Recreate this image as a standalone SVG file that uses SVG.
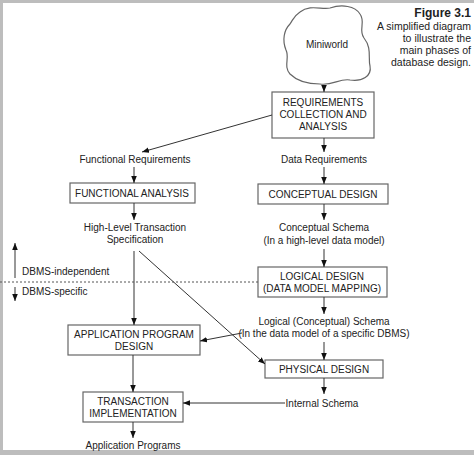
<svg xmlns="http://www.w3.org/2000/svg" width="474" height="455" viewBox="0 0 474 455">
<defs>
<marker id="ah" viewBox="0 0 10 10" refX="10" refY="5" markerWidth="7" markerHeight="7" orient="auto-start-reverse" markerUnits="userSpaceOnUse">
<path d="M0,1 L10,5 L0,9 z" fill="#111"/>
</marker>
<style>
text{font-family:"Liberation Sans",Arial,sans-serif;font-size:10px;fill:#222;text-anchor:middle}
.box{fill:#fff;stroke:#666;stroke-width:1.2}
.ln{stroke:#333;stroke-width:1;fill:none}
.cap{text-anchor:end;font-size:10.5px}
</style>
</defs>
<rect x="0" y="0" width="474" height="455" fill="#fff"/>
<rect x="0" y="0" width="474" height="3" fill="#bdbdbd"/>
<rect x="0" y="0" width="3" height="455" fill="#bdbdbd"/>
<rect x="0" y="450" width="474" height="5" fill="#bdbdbd"/>

<g id="caption">
<text x="471" y="17" class="cap" style="font-weight:bold;font-size:12px">Figure 3.1</text>
<text x="471" y="30" class="cap">A simplified diagram</text>
<text x="471" y="42" class="cap">to illustrate the</text>
<text x="471" y="54" class="cap">main phases of</text>
<text x="471" y="66" class="cap">database design.</text>
</g>

<g id="miniworld">
<path class="box" d="M300,12 C310,4 322,10 330,8 C342,4 355,6 360,14 C366,22 358,30 364,38 C372,48 368,58 370,66 C372,76 362,82 350,80 C340,78 332,86 320,84 C306,84 296,80 290,74 C283,66 290,58 286,50 C282,40 284,30 290,24 C294,18 294,16 300,12 Z"/>
<text x="327" y="48">Miniworld</text>
</g>

<g id="requirements">
<rect class="box" x="272" y="92" width="102" height="46"/>
<text x="323" y="106">REQUIREMENTS</text>
<text x="323" y="118">COLLECTION AND</text>
<text x="323" y="130">ANALYSIS</text>
</g>

<g id="labels">
<text x="135" y="163">Functional Requirements</text>
<text x="324" y="163">Data Requirements</text>
<text x="135" y="231">High-Level Transaction</text>
<text x="135" y="243">Specification</text>
<text x="324" y="231">Conceptual Schema</text>
<text x="324" y="244">(In a high-level data model)</text>
<text x="324" y="325">Logical (Conceptual) Schema</text>
<text x="324" y="337">(In the data model of a specific DBMS)</text>
<text x="322" y="407">Internal Schema</text>
<text x="133" y="449">Application Programs</text>
<text x="22" y="275" style="text-anchor:start">DBMS-independent</text>
<text x="22" y="295" style="text-anchor:start">DBMS-specific</text>
</g>

<g id="functional-analysis">
<rect class="box" x="70" y="183" width="125" height="20"/>
<text x="132" y="197">FUNCTIONAL ANALYSIS</text>
</g>

<g id="conceptual-design">
<rect class="box" x="258" y="184" width="130" height="20"/>
<text x="323" y="198">CONCEPTUAL DESIGN</text>
</g>

<g id="logical-design">
<rect class="box" x="258" y="267" width="129" height="30"/>
<text x="322" y="280">LOGICAL DESIGN</text>
<text x="322" y="292">(DATA MODEL MAPPING)</text>
</g>

<g id="application-program-design">
<rect class="box" x="68" y="325" width="132" height="30"/>
<text x="134" y="338">APPLICATION PROGRAM</text>
<text x="134" y="350">DESIGN</text>
</g>

<g id="physical-design">
<rect class="box" x="265" y="360" width="118" height="18"/>
<text x="324" y="373">PHYSICAL DESIGN</text>
</g>

<g id="transaction-implementation">
<rect class="box" x="83" y="392" width="100" height="30"/>
<text x="133" y="405">TRANSACTION</text>
<text x="133" y="417">IMPLEMENTATION</text>
</g>

<g id="connectors">
<line class="ln" x1="324" y1="85" x2="324" y2="92" marker-end="url(#ah)"/>
<line class="ln" x1="324" y1="138" x2="324" y2="152" marker-end="url(#ah)"/>
<line class="ln" x1="272" y1="115" x2="142" y2="152" marker-end="url(#ah)"/>
<line class="ln" x1="134" y1="167" x2="134" y2="183" marker-end="url(#ah)"/>
<line class="ln" x1="324" y1="167" x2="324" y2="184" marker-end="url(#ah)"/>
<line class="ln" x1="134" y1="203" x2="134" y2="220" marker-end="url(#ah)"/>
<line class="ln" x1="324" y1="204" x2="324" y2="220" marker-end="url(#ah)"/>
<line class="ln" x1="324" y1="249" x2="324" y2="267" marker-end="url(#ah)"/>
<line class="ln" x1="324" y1="297" x2="324" y2="314" marker-end="url(#ah)"/>
<line class="ln" x1="134" y1="251" x2="134" y2="325" marker-end="url(#ah)"/>
<line class="ln" x1="139" y1="251" x2="265" y2="364" marker-end="url(#ah)"/>
<line class="ln" x1="242" y1="333" x2="200" y2="341" marker-end="url(#ah)"/>
<line class="ln" x1="324" y1="342" x2="324" y2="360" marker-end="url(#ah)"/>
<line class="ln" x1="324" y1="378" x2="324" y2="394" marker-end="url(#ah)"/>
<line class="ln" x1="285" y1="403" x2="183" y2="403" marker-end="url(#ah)"/>
<line class="ln" x1="133" y1="355" x2="133" y2="392" marker-end="url(#ah)"/>
<line class="ln" x1="133" y1="422" x2="133" y2="438" marker-end="url(#ah)"/>
<line class="ln" x1="0" y1="282" x2="258" y2="282" stroke-dasharray="2,2" style="stroke:#555"/>
<line class="ln" x1="15" y1="278" x2="15" y2="243" marker-end="url(#ah)"/>
<line class="ln" x1="15" y1="287" x2="15" y2="301" marker-end="url(#ah)"/>
</g>
</svg>
